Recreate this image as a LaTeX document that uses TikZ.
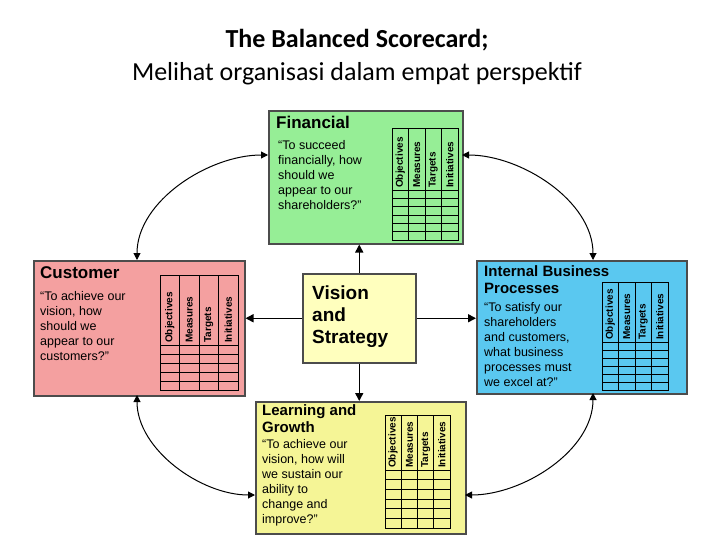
\documentclass[tikz,border=0pt]{standalone}
\usepackage{fontspec}
\setmainfont{Liberation Sans}
\newfontfamily\titlefont{Carlito}
\usetikzlibrary{arrows.meta}
\definecolor{cfin}{RGB}{150,238,150}
\definecolor{ccus}{RGB}{244,160,160}
\definecolor{cint}{RGB}{90,200,240}
\definecolor{clrn}{RGB}{245,245,150}
\definecolor{cvis}{RGB}{255,255,190}
\tikzset{
  box/.style={draw=black!70,line width=1.5pt,anchor=north west,inner sep=0pt},
  head/.style={anchor=north west,align=left,font=\fontsize{17}{18}\selectfont\bfseries,inner sep=0pt},
  body/.style={anchor=north west,align=left,font=\fontsize{12.5}{15}\selectfont,inner sep=0pt},
  tbl/.style={draw=black,line width=0.8pt},
  colhead/.style={rotate=90,anchor=west,font=\fontsize{10}{10}\selectfont\bfseries,inner sep=1pt},
  arr/.style={-{Triangle[length=8pt,width=8pt]},line width=1.5pt},
  dbl/.style={{Triangle[length=7pt,width=7pt]}-{Triangle[length=7pt,width=7pt]},line width=1pt},
}
\newcommand\sctable[6]{% x0 x1 ytop ymid ybot nrows
  \pgfmathsetmacro\cw{(#2-#1)/4}
  \draw[tbl] (#1,#3) rectangle (#2,#5);
  \foreach \k in {1,2,3}{\draw[tbl] ({#1+\k*\cw},#3) -- ({#1+\k*\cw},#5);}
  \draw[tbl] (#1,#4) -- (#2,#4);
  \foreach \r in {1,...,#6}{\pgfmathsetmacro\yy{#4+\r*(#5-#4)/(#6+1)}\draw[tbl] (#1,\yy) -- (#2,\yy);}
  \foreach \t [count=\k from 0] in {Objectives,Measures,Targets,Initiatives}{
    \node[colhead] at ({#1+(\k+0.5)*\cw},{#4-1}) {\t};}
}
\begin{document}
\begin{tikzpicture}[x=1pt,y=-1pt]
\useasboundingbox (0,0) rectangle (728,546);
\node[font=\titlefont\fontsize{26}{33}\selectfont,align=center] (title) at (357,57) {\textbf{The Balanced Scorecard;}\\Melihat organisasi dalam empat perspektif};
% boxes
\node[box,fill=cfin,minimum width=194pt,minimum height=133pt] (fin) at (268,110) {};
\node[box,fill=ccus,minimum width=211pt,minimum height=135pt] (cus) at (33,260) {};
\node[box,fill=cint,minimum width=210pt,minimum height=133pt] (int) at (476,260) {};
\node[box,fill=clrn,minimum width=210pt,minimum height=132pt] (lrn) at (255,401) {};
\node[box,fill=cvis,minimum width=113pt,minimum height=89pt] (vis) at (302,273) {};
% texts
\node[head] (finh) at (276,116) {Financial};
\node[body] (fint) at (278,140) {``To succeed\\financially, how\\should we\\appear to our\\shareholders?''};
\sctable{392}{458}{128}{190}{240}{5}
\node[head] (cush) at (40,266) {Customer};
\node[body] (cust) at (40,291) {``To achieve our\\vision, how\\should we\\appear to our\\customers?''};
\sctable{160}{238}{275}{345}{390}{4}
\node[head,font=\fontsize{15}{17}\selectfont\bfseries] (inth) at (484,265) {Internal Business\\Processes};
\node[body] (intt) at (484,302) {``To satisfy our\\shareholders\\and customers,\\what business\\processes must\\we excel at?''};
\sctable{602}{668}{282}{342}{390}{5}
\node[head,font=\fontsize{15}{17}\selectfont\bfseries] (lrnh) at (262,404) {Learning and\\Growth};
\node[body] (lrnt) at (262,439) {``To achieve our\\vision, how will\\we sustain our\\ability to\\change and\\improve?''};
\sctable{385}{450}{415}{470}{528}{5}
\node[anchor=north west,align=left,inner sep=0pt,font=\fontsize{19}{22}\selectfont\bfseries] (vist) at (312,286) {Vision\\and\\Strategy};
% arrows
\draw[arr] (vis.north) -- (vis.north|-fin.south);
\draw[arr] (vis.south) -- (vis.south|-lrn.north);
\draw[arr] (vis.west) -- (vis.west-|cus.east);
\draw[arr] (vis.east) -- (vis.east-|int.west);
% curved
\coordinate (fw) at (268,155);
\coordinate (fe) at (462,155);
\coordinate (cn) at (137,260);
\coordinate (cs) at (137,395);
\coordinate (in) at (593,260);
\coordinate (is) at (593,393);
\coordinate (lw) at (255,495);
\coordinate (le) at (465,495);
\draw[dbl] (fw) to[out=180,in=90,looseness=0.9] (cn);
\draw[dbl] (fe) to[out=0,in=90,looseness=0.9] (in);
\draw[dbl] (cs) to[out=-90,in=180,looseness=0.9] (lw);
\draw[dbl] (is) to[out=-90,in=0,looseness=0.9] (le);
\end{tikzpicture}
\end{document}
